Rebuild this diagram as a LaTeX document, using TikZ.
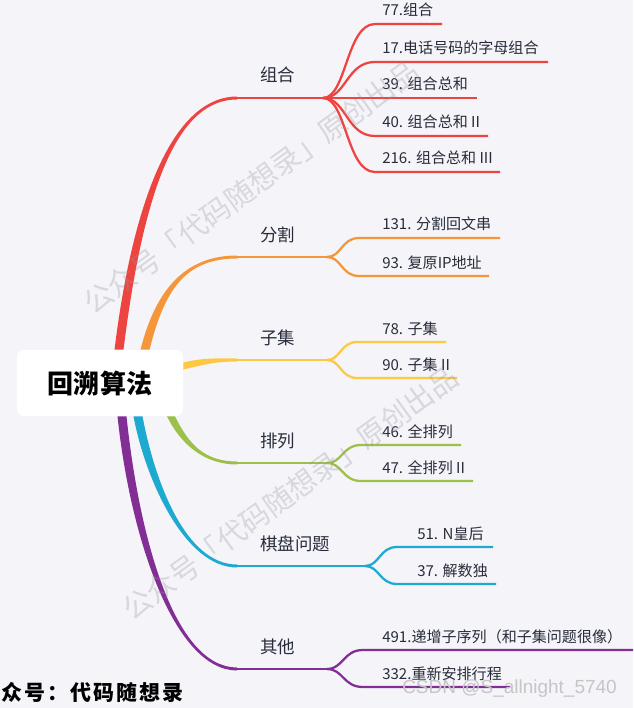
\documentclass[tikz,border=0pt]{standalone}
\usepackage{fontspec}
\setmainfont{Noto Sans CJK SC}
\newfontfamily\markfont{Liberation Sans}
\usepackage{xcolor}
\definecolor{bg}{RGB}{244,244,249}
\definecolor{zhred}{RGB}{238,68,64}
\definecolor{fgorange}{RGB}{246,150,58}
\definecolor{zjyellow}{RGB}{255,200,66}
\definecolor{plgreen}{RGB}{156,192,72}
\definecolor{qpcyan}{RGB}{30,170,208}
\definecolor{qtpurple}{RGB}{130,46,148}
\definecolor{ink}{RGB}{40,44,58}
\definecolor{wmark}{RGB}{150,150,160}
\usepackage{tikz}
\usetikzlibrary{calc}
\tikzset{
  root/.style = {
    fill=white,
    rounded corners=4.5pt,
    minimum width=4.15cm,
    minimum height=1.65cm,
    font=\fontsize{18.5pt}{22pt}\selectfont\bfseries
  },
  topic/.style = {
    anchor=base west,
    inner sep=0pt,
    text=ink,
    font=\fontsize{12.4pt}{15pt}\selectfont
  },
  leaf/.style = {
    anchor=base west,
    inner sep=0pt,
    text=ink,
    font=\fontsize{10.7pt}{13pt}\selectfont
  },
  stem/.style = {line width=2.1pt},
  twig/.style = {line width=1.6pt},
  wmark/.style = {
    text=wmark,
    opacity=0.3,
    rotate=36,
    font=\fontsize{20.6pt}{24pt}\selectfont
  },
}
% tapered limb: colour, start, control 1, control 2, knee, start offset, knee offset
\newcommand\limb[7]{%
  \fill[#1] ($(#2)+(#6)$) .. controls ($(#3)+(#6)$) and ($(#4)+(#7)$) .. ($(#5)+(#7)$)
    -- ($(#5)-(#7)$) .. controls ($(#4)-(#7)$) and ($(#3)-(#6)$) .. ($(#2)-(#6)$) -- cycle;}
% leaf line: fork, end, run, colour
\newcommand\twig[4]{%
  \draw[twig, #4] (#1) .. controls ($(#1)+(0.45*#3,0)$) and ($(#1 |- #2)+(0.45*#3,0)$)
    .. ($(#1 |- #2)+(#3,0)$) -- (#2);}

\begin{document}
\begin{tikzpicture}[x=0.025cm, y=-0.025cm]
    \path[use as bounding box, fill=bg] (0,0) rectangle (633,708);
    \node[root] (root) at (100,383) {回溯算法};
    \coordinate (szh) at ($(root.north)+(19,0)$);
    \coordinate (sfg) at ($(root.north)+(45,0)$);
    \coordinate (szj) at ($(root.east)+(0,-17)$);
    \coordinate (spl) at ($(root.south)+(71,0)$);
    \coordinate (sqp) at ($(root.south)+(38,0)$);
    \coordinate (sqt) at ($(root.south)+(22,0)$);

    % 组合
    \node[topic] (zh) at (260,82) {组合};
    \coordinate (kzh) at (237,98);
    \coordinate (fzh) at (323,98);
    \limb{zhred}{szh}{140,180}{180,98}{kzh}{-4.5,0}{0,-1.5}
    \draw[stem, zhred] (kzh) -- (fzh);
    \node[leaf] (t77)  at (382,16)  {77.组合};
    \node[leaf] (t17)  at (382,54)  {17.电话号码的字母组合};
    \node[leaf] (t39)  at (382,90)  {39. 组合总和};
    \node[leaf] (t40)  at (382,128) {40. 组合总和 II};
    \node[leaf] (t216) at (382,164) {216. 组合总和 III};
    \coordinate (e77)  at (442,24);
    \coordinate (e17)  at (548,62);
    \coordinate (e39)  at (477,98);
    \coordinate (e40)  at (488,136);
    \coordinate (e216) at (500,172);
    \twig{fzh}{e77}{52}{zhred}
    \twig{fzh}{e17}{52}{zhred}
    \twig{fzh}{e39}{52}{zhred}
    \twig{fzh}{e40}{52}{zhred}
    \twig{fzh}{e216}{52}{zhred}

    % 分割
    \node[topic] (fg) at (260,241) {分割};
    \coordinate (kfg) at (237,257);
    \coordinate (ffg) at (327,257);
    \limb{fgorange}{sfg}{160,290}{185,257}{kfg}{-4.5,0}{0,-1.5}
    \draw[stem, fgorange] (kfg) -- (ffg);
    \node[leaf] (t131) at (382,230) {131. 分割回文串};
    \node[leaf] (t93)  at (382,268) {93. 复原IP地址};
    \coordinate (e131) at (500,238);
    \coordinate (e93)  at (489,276);
    \twig{ffg}{e131}{32}{fgorange}
    \twig{ffg}{e93}{32}{fgorange}

    % 子集
    \node[topic] (zj) at (260,344) {子集};
    \coordinate (kzj) at (237,360);
    \coordinate (fzj) at (327,360);
    \limb{zjyellow}{szj}{205,361}{215,360}{kzj}{0,-3.5}{0,-1.5}
    \draw[stem, zjyellow] (kzj) -- (fzj);
    \node[leaf] (t78) at (382,334) {78. 子集};
    \node[leaf] (t90) at (382,370) {90. 子集 II};
    \coordinate (e78) at (446,342);
    \coordinate (e90) at (457,378);
    \twig{fzj}{e78}{30}{zjyellow}
    \twig{fzj}{e90}{30}{zjyellow}

    % 排列
    \node[topic] (pl) at (260,447) {排列};
    \coordinate (kpl) at (237,463);
    \coordinate (fpl) at (327,463);
    \limb{plgreen}{spl}{185,445}{205,463}{kpl}{-4,0}{0,1.5}
    \draw[stem, plgreen] (kpl) -- (fpl);
    \node[leaf] (t46) at (382,437) {46. 全排列};
    \node[leaf] (t47) at (382,473) {47. 全排列 II};
    \coordinate (e46) at (461,445);
    \coordinate (e47) at (473,481);
    \twig{fpl}{e46}{34}{plgreen}
    \twig{fpl}{e47}{34}{plgreen}

    % 棋盘问题
    \node[topic] (qp) at (260,550) {棋盘问题};
    \coordinate (kqp) at (237,566);
    \coordinate (fqp) at (365,566);
    \limb{qpcyan}{sqp}{150,480}{185,566}{kqp}{-4.5,0}{0,1.5}
    \draw[stem, qpcyan] (kqp) -- (fqp);
    \node[leaf] (t51) at (417,539) {51. N皇后};
    \node[leaf] (t37) at (417,576) {37. 解数独};
    \coordinate (e51) at (493,547);
    \coordinate (e37) at (496,584);
    \twig{fqp}{e51}{32}{qpcyan}
    \twig{fqp}{e37}{32}{qpcyan}

    % 其他
    \node[topic] (qt) at (260,653) {其他};
    \coordinate (kqt) at (237,669);
    \coordinate (fqt) at (327,669);
    \limb{qtpurple}{sqt}{135,540}{175,669}{kqt}{-4.5,0}{0,1.5}
    \draw[stem, qtpurple] (kqt) -- (fqt);
    \node[leaf] (t491) at (382,642) {491.递增子序列（和子集问题很像）};
    \node[leaf] (t332) at (382,679) {332.重新安排行程};
    \coordinate (e491) at (633,650);
    \coordinate (e332) at (510,687);
    \twig{fqt}{e491}{36}{qtpurple}
    \twig{fqt}{e332}{36}{qtpurple}

    \node[wmark] (wm1) at (251,187) {公众号「代码随想录」原创出品};
    \node[wmark] (wm2) at (290,493) {公众号「代码随想录」原创出品};
    \node[anchor=west, inner sep=0pt, font=\fontsize{14.9pt}{17pt}\selectfont\bfseries] (gzh)
      at (1,692) {\addfontfeature{LetterSpace=10}众号：代码随想录};
    \node[anchor=west, inner sep=0pt, text=gray!45, font=\markfont\fontsize{13.5pt}{16pt}\selectfont] (csdn)
      at (402,689) {CSDN @S\_allnight\_5740};
  \end{tikzpicture}
\end{document}
